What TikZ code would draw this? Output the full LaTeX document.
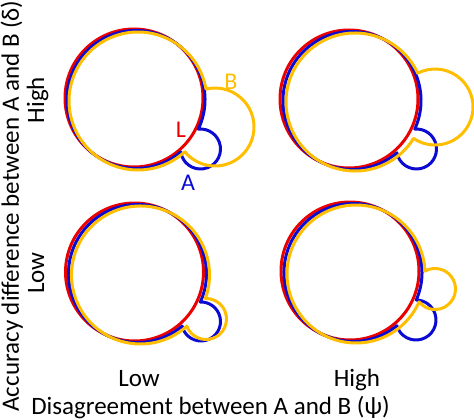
\documentclass[tikz,border=0pt]{standalone}
\usepackage{fontspec}
\setmainfont{Carlito}
\definecolor{cred}{RGB}{235,0,0}
\definecolor{cblue}{RGB}{10,10,210}
\definecolor{cgold}{RGB}{255,190,0}
\newcommand\blobshape[7]{%
  \pgfmathsetmacro\bdx{#5-#2}%
  \pgfmathsetmacro\bdy{#6-#3}%
  \pgfmathsetmacro\bd{sqrt(\bdx*\bdx+\bdy*\bdy)}%
  \pgfmathsetmacro\bth{atan2(\bdy,\bdx)}%
  \pgfmathsetmacro\ba{(#4*#4-#7*#7+\bd*\bd)/(2*\bd)}%
  \pgfmathsetmacro\bal{acos(\ba/#4)}%
  \pgfmathsetmacro\bbe{acos((\bd-\ba)/#7)}%
  \draw[#1] (#2,#3) ++(\bth+\bal:#4) arc[start angle=\bth+\bal, end angle=\bth+360-\bal, radius=#4]
    arc[start angle=\bth+180+\bbe, end angle=\bth+540-\bbe, radius=#7] -- cycle;
}
\tikzset{
  redline/.style={draw=cred, line width=3pt},
  blueline/.style={draw=cblue, line width=3pt, line join=round},
  goldline/.style={draw=cgold, line width=3pt, line join=round},
  axislabel/.style={font=\fontsize{25}{28}\selectfont, inner sep=0pt},
  clabel/.style={font=\fontsize{24}{27}\selectfont, inner sep=0pt}
}
\begin{document}
\begin{tikzpicture}[x=1pt,y=1pt]
\useasboundingbox (0,0) rectangle (474,-420);
% top-left panel
\draw[redline] (134,-98) circle[radius=69];
\blobshape{blueline}{136}{-99.5}{69}{200.5}{-149}{20}
\blobshape{goldline}{138}{-101}{69}{215}{-127}{39}
\node[clabel, text=cgold] (lb) at (231,-82) {B};
\node[clabel, text=cred] (ll) at (181,-130) {L};
\node[clabel, text=cblue] (la) at (188,-183) {A};
% top-right panel
\draw[redline] (349,-99) circle[radius=69];
\blobshape{blueline}{352}{-100.5}{69}{416.5}{-149}{20}
\blobshape{goldline}{355}{-102}{69}{435}{-107}{38}
% bottom-left panel
\draw[redline] (134.5,-272) circle[radius=69];
\blobshape{blueline}{137.5}{-273.5}{69}{201}{-321.5}{19.5}
\blobshape{goldline}{140.5}{-275}{69}{206}{-319}{20.5}
% bottom-right panel
\draw[redline] (350,-271) circle[radius=69];
\blobshape{blueline}{353}{-272.5}{69}{416}{-320}{20}
\blobshape{goldline}{356}{-274}{69}{435}{-289}{20.5}
% axis labels
\node[axislabel, anchor=base] (xlow) at (139,-386) {Low};
\node[axislabel, anchor=base] (xhigh) at (357,-386) {High};
\node[axislabel, anchor=base] (xtitle) at (210.5,-414) {Disagreement between A and B (ψ)};
\node[axislabel, anchor=base, rotate=90] (ytitle) at (19,-206) {Accuracy difference between A and B (δ)};
\node[axislabel, anchor=base, rotate=90] (yhigh) at (44,-100) {High};
\node[axislabel, anchor=base, rotate=90] (ylow) at (44,-273) {Low};
\end{tikzpicture}
\end{document}
